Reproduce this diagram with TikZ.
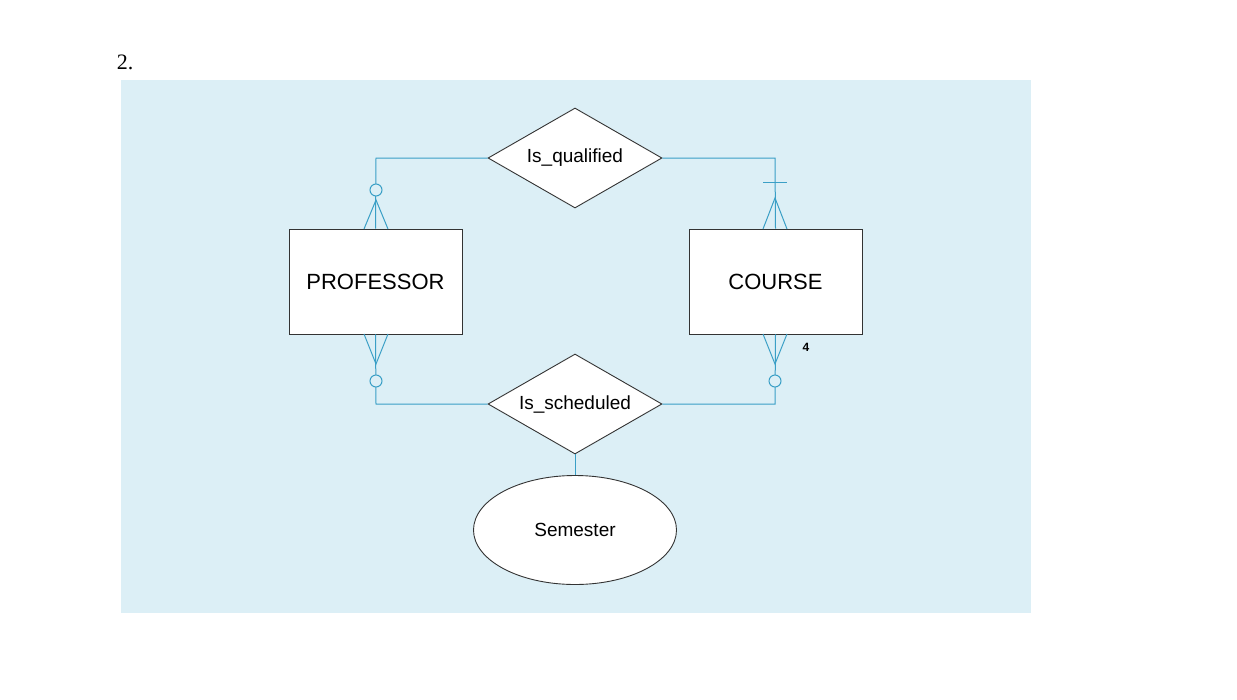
\documentclass[tikz,border=0pt]{standalone}
\usepackage{fontspec}
\setmainfont{Liberation Sans}
\newfontfamily\serifnum{Liberation Serif}
\usetikzlibrary{shapes.geometric}
\definecolor{bgc}{HTML}{DCEFF6}
\definecolor{lnc}{HTML}{3A9FC6}
\begin{document}
\begin{tikzpicture}[x=1pt,y=-1pt,
  ent/.style={draw=black!80,fill=white,line width=0.9pt,minimum width=173pt,minimum height=105pt,inner sep=0pt,font=\fontsize{22}{24}\selectfont},
  rel/.style={diamond,draw=black!80,fill=white,line width=0.9pt,aspect=1.74,minimum width=174pt,minimum height=100pt,inner sep=0pt,font=\fontsize{19}{21}\selectfont},
  ln/.style={draw=lnc,line width=1pt}]
\useasboundingbox (0,0) rectangle (1237,699);
\fill[bgc] (121,80) rectangle (1031,613);
\node[font=\serifnum\fontsize{22}{24}\selectfont] (num) at (125,62) {2.};
\coordinate (pt) at (376,158);
\coordinate (ct) at (775,158);
\coordinate (pb) at (376,404);
\coordinate (cb) at (775,404);
\node[ent] (prof) at (375.5,281.5) {PROFESSOR};
\node[ent] (course) at (775.5,281.5) {COURSE};
\node[rel] (q) at (575,158) {Is\_qualified};
\node[rel] (s) at (575,404) {Is\_scheduled};
\node[ellipse,draw=black!80,fill=white,line width=0.9pt,minimum width=203pt,minimum height=109pt,font=\fontsize{19}{21}\selectfont] (sem) at (575,530) {Semester};
\begin{scope}[ln]
\draw (q.west) -- (pt) -- (prof.north);
\draw (q.east) -- (ct) -- (course.north);
\draw (s.west) -- (pb) -- (prof.south);
\draw (s.east) -- (cb) -- (course.south);
\draw (s.south) -- (sem.north);
\draw[fill=bgc] (376,190) circle[radius=6];
\draw (364,229) -- (376,200) -- (388,229);
\draw (763,182) -- (787,182);
\draw (763,229) -- (775,198) -- (787,229);
\draw (364,334) -- (376,364) -- (388,334);
\draw[fill=bgc] (376,381) circle[radius=6];
\draw (763,334) -- (775,364) -- (787,334);
\draw[fill=bgc] (775,381) circle[radius=6];
\end{scope}
\node[font=\bfseries\fontsize{12}{13}\selectfont] (four) at (806,347) {4};
\end{tikzpicture}
\end{document}
